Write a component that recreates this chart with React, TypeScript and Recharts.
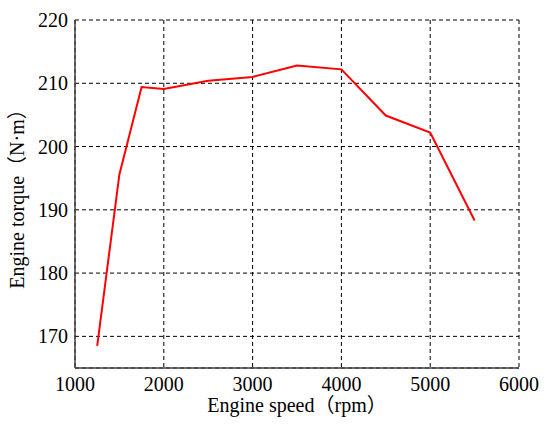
import { CartesianGrid, Line, LineChart, XAxis, YAxis } from "recharts";

const speeds = [1250, 1500, 1750, 2000, 2500, 3000, 3500, 4000, 4500, 5000, 5500];
const torques = [168.5, 195.6, 209.4, 209.1, 210.4, 211.0, 212.8, 212.2, 204.9, 202.2, 188.3];
const xTicks = [1000, 2000, 3000, 4000, 5000, 6000];
const yTicks = [170, 180, 190, 200, 210, 220];

const data = speeds.map((s, i) => ({ speed: s, torque: torques[i] }));

const font = "'Liberation Serif', 'Noto Sans CJK SC', serif";
const frame = "#404040";

export default function App() {
  return (
    <div style={{ position: "fixed", left: 0, top: 0, background: "#fff" }}>
      <LineChart
        width={550}
        height={424}
        data={data}
        margin={{ top: 20, right: 31, left: 15, bottom: 26 }}
      >
        <CartesianGrid stroke="#000" strokeDasharray="4 3" strokeWidth={1} />
        <XAxis
          dataKey="speed"
          type="number"
          domain={[1000, 6000]}
          ticks={xTicks}
          tickSize={0}
          tickMargin={9}
          tick={{ fill: "#000", fontSize: 20, fontFamily: font }}
          axisLine={{ stroke: frame, strokeWidth: 1.5 }}
          height={30}
          label={{
            value: "Engine speed（rpm）",
            position: "bottom",
            offset: 0,
            fill: "#000",
            fontSize: 20,
            fontFamily: font,
          }}
        />
        <XAxis
          xAxisId="top"
          orientation="top"
          dataKey="speed"
          type="number"
          domain={[1000, 6000]}
          tick={false}
          tickLine={false}
          axisLine={{ stroke: frame, strokeWidth: 1.5 }}
          height={0}
        />
        <YAxis
          type="number"
          domain={[165, 220]}
          ticks={yTicks}
          tickSize={0}
          tickMargin={7}
          tick={{ fill: "#000", fontSize: 20, fontFamily: font }}
          axisLine={{ stroke: frame, strokeWidth: 1.5 }}
          width={60}
          label={{
            value: "Engine torque（N·m）",
            angle: -90,
            position: "insideLeft",
            offset: 2,
            style: { textAnchor: "middle" },
            fill: "#000",
            fontSize: 20,
            fontFamily: font,
          }}
        />
        <YAxis
          yAxisId="right"
          orientation="right"
          type="number"
          domain={[165, 220]}
          tick={false}
          tickLine={false}
          axisLine={{ stroke: frame, strokeWidth: 1.5 }}
          width={0}
        />
        <Line
          dataKey="torque"
          stroke="#ff0000"
          strokeWidth={2}
          dot={false}
          isAnimationActive={false}
        />
      </LineChart>
    </div>
  );
}
